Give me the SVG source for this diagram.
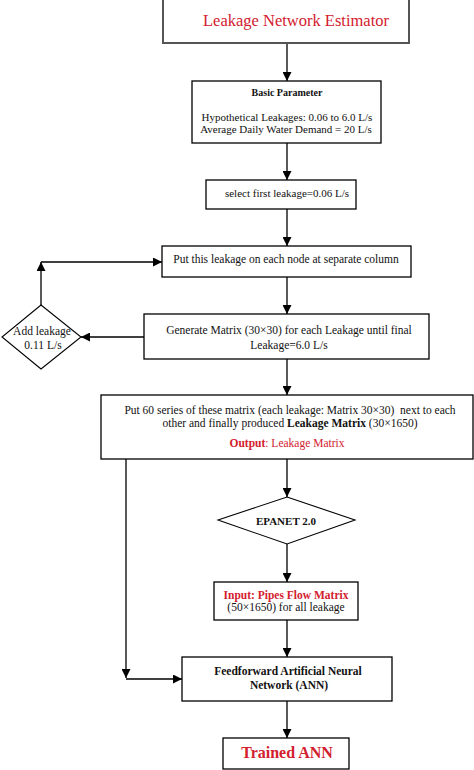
<svg xmlns="http://www.w3.org/2000/svg" width="474" height="770" viewBox="0 0 474 770">
<style>
.box{fill:#fff;stroke:#000;stroke-width:1.3}
.t{font-family:"Liberation Serif","Times New Roman",serif;font-size:11.5px;fill:#111;text-anchor:middle}
.b{font-weight:bold}
.red{fill:#d3202e}
.c{fill:none;stroke:#000;stroke-width:1.3;marker-end:url(#ah)}
</style>
<defs>
<marker id="ah" viewBox="0 0 10 10" refX="10" refY="5" markerWidth="9" markerHeight="9" markerUnits="userSpaceOnUse" orient="auto">
<path d="M0,0 L10,5 L0,10 z" fill="#000"/>
</marker>
</defs>
<rect width="474" height="770" fill="#fff"/>
<g id="connectors">
<path class="c" d="M287,44 V81"/>
<path class="c" d="M287,143 V180"/>
<path class="c" d="M287,209 V246"/>
<path class="c" d="M287,277 V314"/>
<path class="c" d="M144,337 H81"/>
<path class="c" d="M41,305 V262"/>
<path class="c" d="M41,262 H162"/>
<path class="c" d="M287,359 V395"/>
<path class="c" d="M287,459 V497"/>
<path class="c" d="M287,544 V582"/>
<path class="c" d="M287,620 V657"/>
<path class="c" d="M126,459 V678"/>
<path class="c" d="M126,679 H182"/>
<path class="c" d="M287,701 V738"/>
</g>
<g id="estimator">
<rect x="163" y="-1" width="246" height="44" fill="#fff" stroke="#555" stroke-width="2"/>
<text class="t red" x="296" y="26" style="font-size:16.5px">Leakage Network Estimator</text>
</g>
<g id="basic">
<rect class="box" x="192" y="81" width="189" height="62"/>
<text class="t b" x="287" y="96" style="font-size:10px">Basic Parameter</text>
<text class="t" x="287" y="121" style="font-size:11px">Hypothetical Leakages: 0.06 to 6.0 L/s</text>
<text class="t" x="286" y="133" style="font-size:11px">Average Daily Water Demand = 20 L/s</text>
</g>
<g id="select">
<rect class="box" x="206" y="180" width="150" height="29"/>
<text class="t" x="287" y="197" style="font-size:11px">select first leakage=0.06 L/s</text>
</g>
<g id="putleak">
<rect class="box" x="162" y="246" width="249" height="31"/>
<text class="t" x="286" y="263">Put this leakage on each node at separate column</text>
</g>
<g id="generate">
<rect class="box" x="144" y="314" width="285" height="45"/>
<text class="t" x="289" y="334">Generate Matrix (30×30) for each Leakage until final</text>
<text class="t" x="289" y="349">Leakage=6.0 L/s</text>
</g>
<g id="addleak">
<polygon points="41,305 81,337 41,369 2,337" fill="#fff" stroke="#000" stroke-width="1.1"/>
<text class="t" x="42" y="335">Add leakage</text>
<text class="t" x="43" y="349">0.11 L/s</text>
</g>
<g id="series">
<rect class="box" x="101" y="395" width="372" height="64"/>
<text class="t" x="290" y="414">Put 60 series of these matrix (each leakage: Matrix 30×30)&#160; next to each</text>
<text class="t" x="290" y="427">other and finally produced <tspan class="b">Leakage Matrix</tspan> (30×1650)</text>
<text class="t red" x="287" y="447"><tspan class="b">Output</tspan>: Leakage Matrix</text>
</g>
<g id="epanet">
<polygon points="287,497 355,520 287,544 218,520" fill="#fff" stroke="#000" stroke-width="1.1"/>
<text class="t b" x="286" y="525" style="font-size:11px">EPANET 2.0</text>
</g>
<g id="input">
<rect class="box" x="214" y="582" width="144" height="38"/>
<text class="t b red" x="286" y="599">Input: Pipes Flow Matrix</text>
<text class="t" x="286" y="611">(50×1650) for all leakage</text>
</g>
<g id="ann">
<rect class="box" x="182" y="657" width="210" height="44"/>
<text class="t b" x="288" y="675">Feedforward Artificial Neural</text>
<text class="t b" x="289" y="689">Network (ANN)</text>
</g>
<g id="trained">
<rect class="box" x="223" y="738" width="126" height="31" stroke-width="1.6"/>
<text class="t b red" x="287" y="758" style="font-size:16px">Trained ANN</text>
</g>
</svg>
